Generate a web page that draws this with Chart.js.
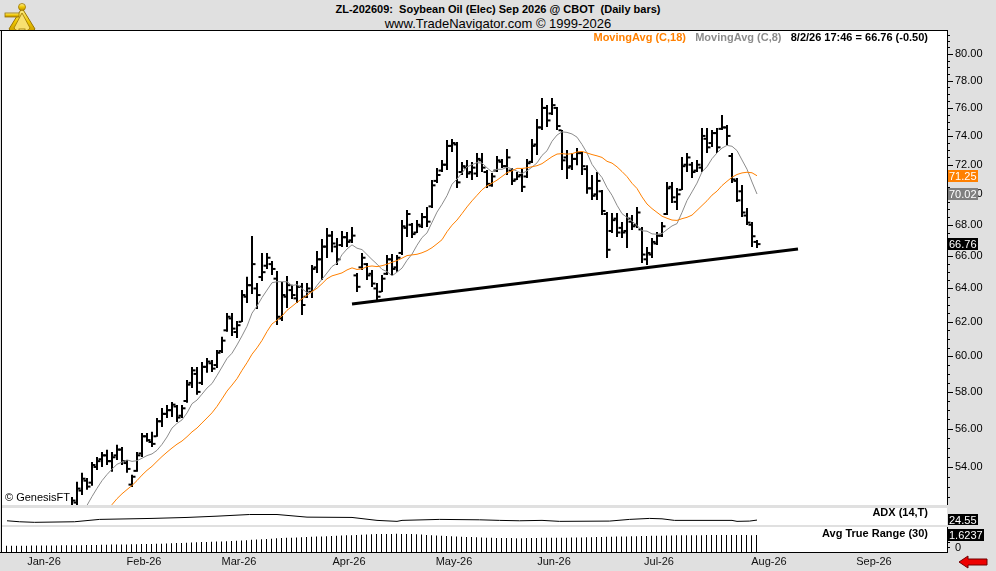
<!DOCTYPE html>
<html>
<head>
<meta charset="utf-8">
<title>ZL-202609 Soybean Oil (Elec) Sep 2026</title>
<script src="https://cdn.jsdelivr.net/npm/chart.js@4.4.1/dist/chart.umd.min.js"></script>
<style>
  html, body { margin: 0; padding: 0; }
  body { width: 996px; height: 571px; background: #e0e0e0; position: relative; overflow: hidden;
         font-family: "Liberation Sans", Arial, sans-serif; color: #000; }
  .abs { position: absolute; }
  canvas { position: absolute; left: 0; display: block; }
  .txt { position: absolute; font-size: 11px; line-height: 13px; white-space: pre; }
  .line { position: absolute; background: #000; }
</style>
</head>
<body>

<svg class="abs" style="left:2px;top:1px" width="36" height="36" viewBox="0 0 36 36">
  <defs>
    <linearGradient id="gold" x1="0" y1="0" x2="0" y2="1">
      <stop offset="0" stop-color="#fff3a0"/>
      <stop offset="0.5" stop-color="#f0c800"/>
      <stop offset="1" stop-color="#b88a00"/>
    </linearGradient>
  </defs>
  <path d="M20 7 L7 28 A16 16 0 0 0 33 28 Z" fill="url(#gold)" stroke="#9a7400" stroke-width="1"/>
  <path d="M20 12 L12 27 A10 10 0 0 0 28 27 Z" fill="#f8e070" stroke="#9a7400" stroke-width="0.8"/>
  <rect x="3" y="12" width="14" height="4" fill="url(#gold)" stroke="#9a7400" stroke-width="0.8"/>
  <circle cx="20" cy="6" r="3.5" fill="url(#gold)" stroke="#9a7400" stroke-width="0.8"/>
  <rect x="17" y="28" width="6" height="6" fill="url(#gold)" stroke="#9a7400" stroke-width="0.8"/>
</svg>

<div class="txt" style="left:0;width:996px;top:3px;text-align:center;font-weight:bold">ZL-202609:  Soybean Oil (Elec) Sep 2026 @ CBOT  (Daily bars)</div>
<div class="txt" style="left:0;width:996px;top:16px;text-align:center;font-size:13px;line-height:15px">www.TradeNavigator.com © 1999-2026</div>

<canvas id="pricePane" width="996" height="475" style="top:30px;width:996px;height:475px"></canvas>
<canvas id="adxPane" width="996" height="17" style="top:508px;width:996px;height:17px"></canvas>
<canvas id="atrPane" width="996" height="44" style="top:527px;width:996px;height:44px"></canvas>

<div class="line" style="left:0;top:30px;width:948px;height:1px"></div>
<div class="line" style="left:1px;top:30px;width:1px;height:522px"></div>
<div class="line" style="left:947px;top:30px;width:1px;height:475px"></div>
<div class="line" style="left:947px;top:527px;width:1px;height:25px"></div>
<div class="line" style="left:0;top:552px;width:948px;height:1px"></div>

<div class="txt" id="legendRow" style="right:68px;top:31px;font-weight:bold"></div>
<div class="txt" style="left:5px;top:491px">© GenesisFT</div>
<div class="txt" style="right:68px;top:506px;font-weight:bold">ADX (14,T)</div>
<div class="txt" style="right:68px;top:527px;font-weight:bold">Avg True Range (30)</div>

<svg class="abs" style="left:958px;top:555px" width="30" height="14">
  <polygon points="1,7 10,1 10,4 29,4 29,10 10,10 10,13" fill="#ee0000" stroke="#700000" stroke-width="1"/>
</svg>

<script>
// daily bars, late Dec 2025 .. 31 Jul 2026 (index 0 = first bar)
const opens = [
  49.5, 49.3, 49.6, 49.4, 49.8, 49.6, 49.9, 50.1, 49.8, 50.2,
  50.6, 51.0, 51.4, 51.8, 52.2, 52.8, 53.3, 53.2, 54.0, 54.4,
  54.6, 54.3, 54.6, 54.9, 54.2, 53.1, 53.8, 54.7, 55.6, 55.3,
  55.6, 56.4, 56.8, 57.0, 57.2, 56.7, 57.5, 58.5, 59.0, 58.5,
  59.4, 59.6, 59.5, 60.3, 61.5, 62.2, 61.4, 62.0, 63.5, 64.2,
  64.0, 64.7, 65.4, 65.5, 64.6, 62.2, 63.5, 63.9, 63.4, 64.1,
  63.5, 63.8, 65.3, 65.8, 66.6, 67.3, 66.6, 66.7, 67.2, 67.0,
  64.8, 65.3, 65.5, 64.9, 64.0, 63.8, 64.9, 65.8, 65.3, 66.2,
  67.8, 68.0, 67.5, 67.9, 68.5, 69.2, 70.9, 71.6, 72.0, 73.3,
  73.4, 71.5, 71.8, 71.5, 71.4, 72.3, 71.5, 70.6, 71.6, 72.2,
  71.9, 71.6, 71.0, 71.3, 71.2, 72.2, 73.4, 74.6, 76.0, 75.6,
  76.0, 74.4, 72.5, 71.9, 72.4, 72.8, 71.7, 70.4, 70.0, 70.2,
  68.7, 67.6, 68.4, 67.8, 67.6, 68.2, 68.0, 67.7, 65.8, 66.1,
  66.8, 67.3, 68.7, 70.5, 69.5, 70.3, 72.0, 72.0, 71.6, 71.8,
  73.8, 73.5, 74.2, 74.5, 74.6, 72.6, 70.9, 70.2, 68.6, 68.0,
  66.9
];
const highs = [
  49.9, 49.9, 49.8, 50.1, 50.0, 50.2, 50.5, 50.3, 50.4, 50.9,
  51.3, 51.7, 52.0, 52.48, 53.24, 53.70, 53.44, 54.26, 54.52, 54.78,
  54.89, 54.78, 55.15, 55.04, 54.36, 53.60, 54.78, 55.78, 55.78, 55.84,
  56.58, 57.12, 57.28, 57.45, 57.28, 57.28, 58.66, 59.39, 59.39, 59.67,
  59.90, 59.79, 60.36, 61.12, 62.53, 62.53, 62.05, 63.91, 64.71, 67.28,
  64.34, 66.19, 66.19, 65.70, 65.08, 64.40, 64.77, 64.22, 64.46, 64.34,
  64.34, 65.45, 66.32, 67.08, 67.79, 67.60, 67.15, 67.60, 67.53, 67.86,
  64.95, 66.19, 65.57, 65.14, 64.34, 64.83, 66.07, 66.13, 66.07, 68.31,
  68.96, 68.11, 68.31, 68.77, 69.16, 70.96, 71.77, 72.32, 73.71, 73.78,
  73.57, 72.18, 72.32, 72.18, 72.81, 72.81, 71.64, 71.43, 72.60, 72.39,
  73.09, 71.77, 71.50, 71.70, 72.39, 73.78, 75.20, 76.72, 76.21, 76.72,
  76.06, 74.42, 73.02, 72.81, 73.16, 72.87, 71.97, 71.30, 71.50, 70.29,
  68.83, 68.77, 68.77, 68.18, 68.77, 68.63, 69.16, 67.86, 66.58, 67.15,
  67.53, 68.18, 70.83, 70.83, 70.43, 72.53, 72.81, 72.18, 72.32, 74.56,
  74.56, 74.42, 74.56, 75.49, 74.77, 72.81, 71.10, 70.63, 69.10, 68.18,
  67.02
];
const lows = [
  49.0, 49.1, 49.0, 49.2, 49.3, 49.4, 49.7, 49.6, 49.6, 50.0,
  50.4, 50.8, 51.2, 51.6, 51.9, 52.58, 52.84, 53.04, 53.85, 54.00,
  54.10, 53.75, 54.36, 54.10, 53.70, 52.98, 53.75, 54.52, 55.31, 55.04,
  55.57, 56.10, 56.58, 56.63, 56.36, 56.58, 57.40, 58.21, 57.84, 58.38,
  59.06, 59.11, 59.33, 60.18, 61.41, 61.17, 61.05, 61.99, 63.12, 63.67,
  62.76, 64.46, 65.20, 64.83, 61.81, 62.05, 62.82, 63.36, 63.12, 62.41,
  63.42, 63.42, 64.95, 64.52, 65.88, 66.25, 65.45, 66.58, 66.58, 66.83,
  63.79, 65.14, 64.52, 64.09, 63.30, 63.79, 64.83, 64.83, 65.02, 66.07,
  67.21, 67.15, 67.47, 67.79, 67.86, 69.10, 70.76, 71.50, 71.64, 72.87,
  70.43, 71.30, 71.10, 70.96, 71.17, 71.50, 70.43, 70.50, 71.50, 71.77,
  71.30, 70.63, 70.96, 70.16, 71.10, 72.11, 72.67, 74.42, 74.63, 75.49,
  74.42, 71.64, 71.03, 71.64, 71.97, 71.30, 70.03, 69.62, 69.62, 68.63,
  65.88, 67.47, 67.21, 67.15, 66.51, 67.66, 67.79, 65.57, 65.45, 65.88,
  66.70, 67.21, 68.63, 69.43, 68.96, 70.29, 71.50, 71.10, 71.50, 71.50,
  72.81, 73.23, 72.81, 74.42, 73.37, 70.76, 69.49, 68.50, 67.98, 66.58,
  66.51
];
const closes = [
  49.3, 49.6, 49.4, 49.8, 49.6, 49.9, 50.1, 49.8, 50.1, 50.6,
  51.0, 51.5, 51.8, 52.3, 52.9, 53.4, 53.0, 54.1, 54.3, 54.6,
  54.3, 54.5, 54.9, 54.3, 53.9, 53.5, 54.6, 55.6, 55.4, 55.2,
  56.4, 56.8, 57.0, 57.3, 56.6, 57.1, 58.4, 59.2, 58.0, 59.4,
  59.7, 59.3, 60.2, 60.9, 62.3, 61.6, 61.8, 63.6, 64.2, 65.5,
  63.6, 65.0, 65.9, 65.2, 62.3, 63.6, 64.2, 63.6, 64.1, 63.0,
  64.0, 65.2, 65.8, 66.6, 67.3, 66.8, 65.8, 67.2, 66.9, 67.3,
  64.1, 65.9, 64.8, 64.3, 63.5, 64.6, 65.8, 65.2, 65.9, 67.9,
  68.7, 67.4, 68.0, 68.5, 68.2, 70.6, 71.3, 72.0, 73.3, 73.5,
  70.8, 71.9, 71.4, 71.8, 72.4, 71.8, 70.7, 71.2, 72.3, 71.9,
  72.5, 70.9, 71.2, 70.5, 72.1, 73.3, 74.6, 76.0, 75.1, 76.2,
  74.7, 72.3, 71.8, 72.4, 72.8, 71.9, 70.4, 69.9, 70.9, 68.9,
  66.4, 68.3, 67.5, 67.5, 68.4, 67.9, 68.8, 66.1, 66.2, 66.9,
  67.3, 67.9, 70.4, 69.8, 70.0, 71.9, 72.5, 71.5, 72.0, 74.0,
  73.2, 74.2, 73.2, 74.6, 74.0, 71.0, 69.6, 68.8, 68.14, 67.26,
  66.76
];

// Avg True Range (30), one value per bar
const atr = [
  0.60, 0.60, 0.61, 0.60, 0.61, 0.62, 0.62, 0.62, 0.63, 0.62,
  0.63, 0.64, 0.64, 0.65, 0.66, 0.66, 0.67, 0.68, 0.68, 0.70,
  0.70, 0.71, 0.72, 0.72, 0.73, 0.74, 0.75, 0.76, 0.77, 0.78,
  0.79, 0.80, 0.82, 0.84, 0.86, 0.87, 0.89, 0.91, 0.93, 0.95,
  0.97, 0.99, 1.00, 1.02, 1.04, 1.06, 1.08, 1.10, 1.13, 1.18,
  1.20, 1.23, 1.25, 1.28, 1.31, 1.34, 1.36, 1.38, 1.40, 1.42,
  1.44, 1.46, 1.48, 1.50, 1.52, 1.54, 1.56, 1.58, 1.60, 1.62,
  1.64, 1.66, 1.68, 1.70, 1.72, 1.73, 1.74, 1.74, 1.75, 1.74,
  1.73, 1.72, 1.70, 1.67, 1.64, 1.61, 1.58, 1.55, 1.53, 1.51,
  1.49, 1.47, 1.45, 1.43, 1.41, 1.39, 1.37, 1.36, 1.35, 1.35,
  1.34, 1.34, 1.33, 1.33, 1.34, 1.34, 1.35, 1.36, 1.36, 1.37,
  1.37, 1.38, 1.38, 1.39, 1.40, 1.40, 1.41, 1.42, 1.43, 1.44,
  1.46, 1.47, 1.48, 1.49, 1.50, 1.51, 1.52, 1.53, 1.54, 1.55,
  1.56, 1.57, 1.58, 1.59, 1.60, 1.60, 1.61, 1.61, 1.62, 1.62,
  1.63, 1.63, 1.64, 1.64, 1.64, 1.64, 1.63, 1.63, 1.63, 1.62,
  1.6237
];

const adxAt  = [0, 2.5, 5.5, 13.5, 18.5, 29, 36, 42, 48.5, 54, 60, 69, 74, 78, 79,
                86.5, 94.5, 98.5, 102.5, 107, 110.5, 120.5, 124.5, 128.5, 131, 133.5,
                145, 146, 148.5, 150];
const adxVal = [21.1, 16.2, 13.3, 16.2, 28, 32.9, 37.8, 44.2, 52.5, 52.5, 39.3, 37.8, 23.1, 18.2, 23.1,
                28, 26, 23.1, 21.1, 23.1, 18.2, 19.6, 28, 32.9, 30.9, 23.1,
                23.1, 18.2, 19.6, 24.55];

// support line drawn on the chart (bar index, price)
const trendAt  = [69, 158.2];
const trendVal = [63.06, 66.45];

const monthStart  = [6, 26, 45, 67, 88, 108, 129, 151, 172];
const monthLabels = ['Jan-26', 'Feb-26', 'Mar-26', 'Apr-26', 'May-26', 'Jun-26', 'Jul-26', 'Aug-26', 'Sep-26'];
const priceLabels = [54, 56, 58, 60, 62, 64, 66, 68, 70, 72, 74, 76, 78, 80];

const FONT = '"Liberation Sans", Arial, sans-serif';
const last = closes.length - 1;

function movingAvg(src, n) {
  return src.map((_, i) => {
    if (i < n - 1) return null;
    let s = 0;
    for (let k = i - n + 1; k <= i; k++) s += src[k];
    return s / n;
  });
}

const ma18 = movingAvg(closes, 18);
const ma8 = movingAvg(closes, 8);

document.getElementById('legendRow').innerHTML =
  '<span style="color:#ff8000">MovingAvg (C,18)</span>   ' +
  '<span style="color:#8c8c8c">MovingAvg (C,8)</span>   ' +
  '<span>8/2/26 17:46 = ' + closes[last].toFixed(2) + ' (' + (closes[last] - closes[last - 1]).toFixed(2) + ')</span>';

// white plotting area
const paneBg = {
  id: 'paneBg',
  beforeDraw(chart) {
    const a = chart.chartArea, c = chart.ctx;
    c.save();
    c.fillStyle = '#fff';
    c.fillRect(a.left, a.top, a.right - a.left, a.bottom - a.top);
    c.restore();
  }
};

// tick marks, extra labels and value boxes on the right axis
function sideAxis(marks, boxes, labels) {
  return {
    id: 'sideAxis',
    afterDraw(chart) {
      const s = chart.scales.y, c = chart.ctx;
      c.save();
      c.fillStyle = '#000';
      marks.forEach(m => {
        const y = Math.round(s.getPixelForValue(m.v));
        c.fillRect(s.left, y, m.len, 1);
      });
      c.font = '11px ' + FONT;
      c.textBaseline = 'middle';
      labels.forEach(l => { c.fillStyle = '#000'; c.fillText(l.text, s.left + 8, l.y); });
      boxes.forEach(b => {
        const y = Math.round(s.getPixelForValue(b.v) - 6);
        const w = Math.ceil(c.measureText(b.text).width) + 2;
        c.fillStyle = b.bg;
        c.fillRect(s.left + 1, y, w, 12);
        c.fillStyle = '#fff';
        c.fillText(b.text, s.left + 2, y + 6.5);
      });
      c.restore();
    }
  };
}

// right axis: fixed width, no label overhang padding
function fitRight(s) {
  s.width = 49;
  s.paddingTop = 0;
  s.paddingBottom = 0;
}

const days = closes.map((_, i) => i);
const common = {
  animation: false,
  responsive: false,
  events: [],
  layout: { padding: { left: 2, top: 0, right: 0, bottom: 0 }, autoPadding: false },
  plugins: { legend: { display: false }, tooltip: { enabled: false } }
};

const priceMarks = [];
for (let v = 52.5; v <= 81.5; v += 0.5) priceMarks.push({ v: v, len: priceLabels.includes(v) ? 6 : 3 });

new Chart(document.getElementById('pricePane'), {
  type: 'bar',
  data: {
    datasets: [
      { type: 'bar', order: 3, data: days.map(i => ({ x: i, y: [lows[i], highs[i]] })),
        backgroundColor: '#000', barThickness: 2, borderWidth: 0, inflateAmount: 0 },
      { type: 'scatter', order: 2, data: days.map(i => ({ x: i - 0.4, y: opens[i] })),
        pointStyle: 'line', pointRadius: 1.5, pointBorderWidth: 2, pointBorderColor: '#000' },
      { type: 'scatter', order: 2, data: days.map(i => ({ x: i + 0.4, y: closes[i] })),
        pointStyle: 'line', pointRadius: 1.5, pointBorderWidth: 2, pointBorderColor: '#000' },
      { type: 'line', order: 1, data: days.map(i => ({ x: i, y: ma18[i] })),
        borderColor: '#ff8000', borderWidth: 1, pointRadius: 0, tension: 0 },
      { type: 'line', order: 1, data: days.map(i => ({ x: i, y: ma8[i] })),
        borderColor: '#8c8c8c', borderWidth: 1, pointRadius: 0, tension: 0 },
      { type: 'line', order: 0, data: trendAt.map((x, k) => ({ x: x, y: trendVal[k] })),
        borderColor: '#000', borderWidth: 3, pointRadius: 0 }
    ]
  },
  options: Object.assign({}, common, {
    scales: {
      x: { type: 'linear', min: -1, max: 188, offset: false, display: false },
      y: {
        type: 'logarithmic', position: 'right', min: 52.08, max: 81.85,
        grid: { display: false, drawTicks: false }, border: { display: false },
        afterBuildTicks: s => { s.ticks = priceLabels.map(v => ({ value: v })); },
        afterFit: fitRight,
        ticks: { autoSkip: false, padding: 8, color: '#000', font: { size: 11, family: FONT },
                 callback: v => Number(v).toFixed(2) }
      }
    }
  }),
  plugins: [paneBg, sideAxis(priceMarks, [
    { v: ma18[last], text: ma18[last].toFixed(2), bg: '#ff8000' },
    { v: ma8[last], text: ma8[last].toFixed(2), bg: '#808080' },
    { v: closes[last], text: closes[last].toFixed(2), bg: '#000' }
  ], [])]
});

new Chart(document.getElementById('adxPane'), {
  type: 'line',
  data: {
    datasets: [{ data: adxAt.map((x, k) => ({ x: x, y: adxVal[k] })),
                 borderColor: '#000', borderWidth: 1, pointRadius: 0, tension: 0 }]
  },
  options: Object.assign({}, common, {
    scales: {
      x: { type: 'linear', min: -1, max: 188, offset: false, display: false },
      y: { min: 0, max: 85, position: 'right', grid: { display: false, drawTicks: false },
           border: { display: false }, ticks: { display: false }, afterFit: fitRight }
    }
  }),
  plugins: [paneBg, sideAxis([],
    [{ v: adxVal[adxVal.length - 1], text: adxVal[adxVal.length - 1].toFixed(2), bg: '#000' }], [])]
});

new Chart(document.getElementById('atrPane'), {
  type: 'bar',
  data: {
    datasets: [{ data: days.map(i => ({ x: i, y: atr[i] })), backgroundColor: '#000',
                 barThickness: 1, borderWidth: 0, inflateAmount: 0 }]
  },
  options: Object.assign({}, common, {
    scales: {
      x: {
        type: 'linear', min: -0.9, max: 188.1, offset: false, position: 'bottom',
        grid: { display: false, drawTicks: false }, border: { display: false },
        afterBuildTicks: s => { s.ticks = monthStart.map(v => ({ value: v + 1.5 })); },
        afterFit: s => { s.height = 19; s.paddingLeft = 0; s.paddingRight = 0; },
        ticks: { autoSkip: false, maxRotation: 0, padding: 3, color: '#111',
                 font: { size: 11, family: FONT }, callback: (v, k) => monthLabels[k] }
      },
      y: { min: 0, max: 2.4, position: 'right', grid: { display: false, drawTicks: false },
           border: { display: false }, ticks: { display: false }, afterFit: fitRight }
    }
  }),
  plugins: [paneBg, sideAxis(
    [{ v: 0.5, len: 3 }, { v: 1, len: 3 }, { v: 1.5, len: 3 }, { v: 2, len: 3 }],
    [{ v: atr[last], text: atr[last].toFixed(4), bg: '#000' }],
    [{ text: '0', y: 21 }])]
});
</script>
</body>
</html>
